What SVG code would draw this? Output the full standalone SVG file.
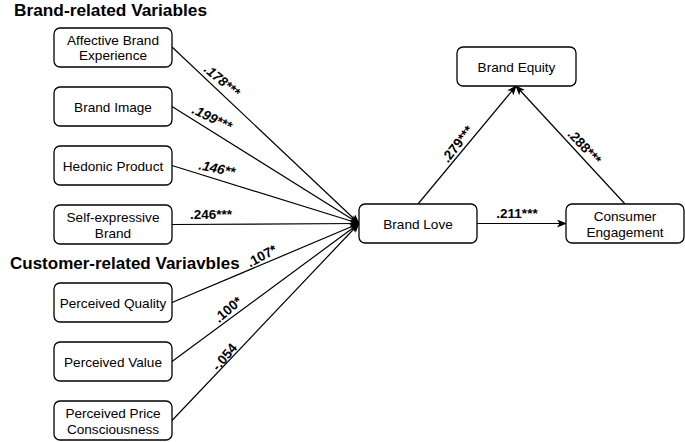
<svg xmlns="http://www.w3.org/2000/svg" width="685" height="442" viewBox="0 0 685 442">
<style>
.box{fill:#fff;stroke:#000;stroke-width:1.3}
.nt{font-family:"Liberation Sans",Arial,sans-serif;font-size:13.6px;fill:#000;text-anchor:middle}
.hd{font-family:"Liberation Sans",Arial,sans-serif;font-weight:bold;fill:#000}
.lb{font-family:"Liberation Sans",Arial,sans-serif;font-size:13.5px;font-weight:bold;fill:#000;text-anchor:middle}
.it{font-style:italic}
.ed{stroke:#000;stroke-width:1.2;fill:none;marker-end:url(#ah)}
</style>
<defs>
<marker id="ah" markerWidth="10" markerHeight="8" refX="9" refY="4" orient="auto" markerUnits="userSpaceOnUse">
<path d="M0,0 L10,4 L0,8 L2.5,4 Z" fill="#000"/>
</marker>
</defs>
<rect width="685" height="442" fill="#fff"/>
<text class="hd" x="14" y="15.5" font-size="17.3">Brand-related Variables</text>
<text class="hd" x="10" y="269" font-size="17">Customer-related Variavbles</text>
<g id="connectors">
<line class="ed" x1="172" y1="47" x2="359" y2="223.5"/>
<line class="ed" x1="172" y1="106.5" x2="359" y2="223.5"/>
<line class="ed" x1="172" y1="165.5" x2="359" y2="223.5"/>
<line class="ed" x1="172" y1="224.5" x2="359" y2="223.5"/>
<line class="ed" x1="172" y1="302.5" x2="359" y2="223.5"/>
<line class="ed" x1="172" y1="361.5" x2="359" y2="223.5"/>
<line class="ed" x1="172" y1="420.5" x2="359" y2="223.5"/>
<line class="ed" x1="418" y1="204" x2="516" y2="86"/>
<line class="ed" x1="625" y1="204" x2="516" y2="86"/>
<line class="ed" x1="477" y1="223.5" x2="566" y2="223.5"/>
<text class="lb it" transform="translate(219,84) rotate(40)">.178***</text>
<text class="lb it" transform="translate(210,122) rotate(26)">.199***</text>
<text class="lb it" transform="translate(216,173) rotate(12)">.146**</text>
<text class="lb" x="211" y="219">.246***</text>
<text class="lb" transform="translate(264,260) rotate(-28)">.107*</text>
<text class="lb" transform="translate(231,313) rotate(-40)">.100*</text>
<text class="lb" transform="translate(228,360) rotate(-50)">-.054</text>
<text class="lb" transform="translate(461,147) rotate(-52)">.279***</text>
<text class="lb" transform="translate(581,150) rotate(47)">.288***</text>
<text class="lb" x="517" y="218">.211***</text>
</g>
<g id="affective">
<rect class="box" x="54" y="28" width="118" height="39" rx="6"/>
<text class="nt" x="113" y="44.5">Affective Brand</text>
<text class="nt" x="113" y="60">Experience</text>
</g>
<g id="image">
<rect class="box" x="54" y="87" width="118" height="39" rx="6"/>
<text class="nt" x="113" y="111.5">Brand Image</text>
</g>
<g id="hedonic">
<rect class="box" x="54" y="146" width="118" height="39" rx="6"/>
<text class="nt" x="113" y="170.5">Hedonic Product</text>
</g>
<g id="selfexp">
<rect class="box" x="54" y="205" width="118" height="39" rx="6"/>
<text class="nt" x="113" y="222">Self-expressive</text>
<text class="nt" x="113" y="237.5">Brand</text>
</g>
<g id="quality">
<rect class="box" x="54" y="283" width="118" height="39" rx="6"/>
<text class="nt" x="113" y="307.5">Perceived Quality</text>
</g>
<g id="value">
<rect class="box" x="54" y="342" width="118" height="39" rx="6"/>
<text class="nt" x="113" y="366.5">Perceived Value</text>
</g>
<g id="price">
<rect class="box" x="54" y="401" width="118" height="39" rx="6"/>
<text class="nt" x="113" y="418">Perceived Price</text>
<text class="nt" x="113" y="433.5">Consciousness</text>
</g>
<g id="brandlove">
<rect class="box" x="359" y="204" width="118" height="39" rx="6"/>
<text class="nt" x="418" y="229">Brand Love</text>
</g>
<g id="equity">
<rect class="box" x="457" y="47" width="119" height="39" rx="6"/>
<text class="nt" x="516.5" y="71.5">Brand Equity</text>
</g>
<g id="engagement">
<rect class="box" x="566" y="204" width="118" height="39" rx="6"/>
<text class="nt" x="625" y="221">Consumer</text>
<text class="nt" x="625" y="236.5">Engagement</text>
</g>
</svg>
